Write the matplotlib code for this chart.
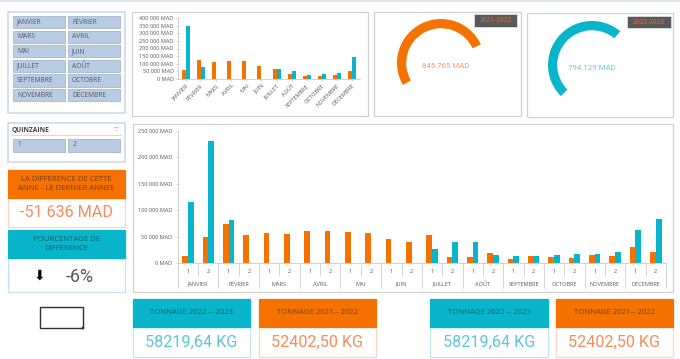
import matplotlib
matplotlib.use('Agg')
import numpy as np
import matplotlib.pyplot as plt
from matplotlib.patches import Rectangle

W, H = 680, 359
ORANGE = '#F67200'
TEAL = '#08B5CB'
GREY = '#595959'
PANEL = '#D0D0D0'

mois = ['JANVIER', 'FÉVRIER', 'MARS', 'AVRIL', 'MAI', 'JUIN', 'JUILLET', 'AOÛT',
        'SEPTEMBRE', 'OCTOBRE', 'NOVEMBRE', 'DÉCEMBRE']
mois_2122 = [60000, 125000, 112000, 118000, 115000, 85000, 65000, 33000, 20000, 20000, 27000, 52000]
mois_2223 = [345000, 80000, 0, 0, 0, 0, 68000, 50000, 27000, 32000, 38000, 145000]

quinz_2122 = [14000, 49000, 73000, 53500, 57000, 54000, 60000, 60000, 58500, 56000, 46000, 40000,
              53000, 11000, 11000, 19500, 7500, 12500, 11000, 9500, 14500, 13000, 31000, 21500]
quinz_2223 = [115000, 230000, 81000, 0, 0, 0, 0, 0, 0, 0, 0, 0,
              27000, 40000, 39000, 15000, 13000, 13000, 16000, 17500, 17000, 21500, 62000, 84000]
quinzaines = ['1', '2']

# (depart, balayage) of the two gauges, in degrees
jauge_2122 = [210, 185]
jauge_2223 = [225, 175]

plt.rcParams['font.family'] = ['Open Sans', 'DejaVu Sans']
fig = plt.figure(figsize=(W / 100, H / 100), dpi=100)

bg = fig.add_axes([0, 0, 1, 1])
bg.set_xlim(0, W)
bg.set_ylim(H, 0)
bg.axis('off')


def box(x0, y0, x1, y1, fc='white', ec=PANEL, lw=0.9):
    bg.add_patch(Rectangle((x0, y0), x1 - x0, y1 - y0, fc=fc, ec=ec, lw=lw))


def txt(x, y, s, size=5, color=GREY, **kw):
    bg.text(x, y, s, fontsize=size, color=color, ha='center', va='center', **kw)


def inset(x0, y0, x1, y1):
    return fig.add_axes([x0 / W, 1 - y1 / H, (x1 - x0) / W, (y1 - y0) / H])


def mad(v, pos=None):
    return f'{int(v):,}'.replace(',', ' ') + ' MAD'


def card(x0, x1, y0, y1, y2, head, value, fill, edge, vcolor, hcolor, size=9):
    box(x0, y1, x1, y2, ec=edge)
    box(x0, y0, x1, y1, fc=fill, ec=fill)
    txt((x0 + x1) / 2, (y0 + y1) / 2, head, size=5.6, color=hcolor, linespacing=1.25)
    if value:
        txt((x0 + x1) / 2, (y1 + y2) / 2, value, size=size, color=vcolor, family=['Roboto'])


bg.add_patch(Rectangle((0, 0), W, 2, fc='#DCE6F1', ec='none'))

# slicers
box(8, 12, 125, 113, ec='#C9D6E8', lw=1.1)
for i, m in enumerate(mois):
    x0 = 12.5 if i % 2 == 0 else 67.5
    y0 = 16 + (i // 2) * 14.6
    box(x0, y0, x0 + 52.5, y0 + 12.2, fc='#B8CCE4', ec='#A5B8D0', lw=0.6)
    bg.text(x0 + 4.5, y0 + 6.2, m, fontsize=4.8, color=GREY, va='center')

box(8, 123, 125, 162, ec='#C9D6E8', lw=1.1)
bg.text(12, 130, 'QUINZAINE', fontsize=4.8, color='#404040', va='center', fontweight='bold')
txt(116, 130, '▽', size=4.5, color='#A0A0A0')
bg.plot([12, 121], [135, 135], color='#D8D8D8', lw=0.7)
for x0, q in zip([12.5, 67.5], quinzaines):
    box(x0, 139, x0 + 52.5, 151.5, fc='#B8CCE4', ec='#A5B8D0', lw=0.6)
    bg.text(x0 + 5, 145, q, fontsize=4.8, color=GREY, va='center')

# difference cards
card(8, 125, 170, 198, 227, 'LA DIFFERENCE DE CETTE\nANNE - LE DERNIER ANNEE', '-51 636 MAD',
     ORANGE, '#FBD5C5', '#F58D5A', '#7A3A08', size=11.6)
card(8, 125, 230, 258, 292, 'POURCENTAGE DE\nDIFFERENCE', '', TEAL, '#BFE6EE', GREY, '#0B5F70')
bg.text(39, 276, '⬇', fontsize=10, color='black', ha='center', va='center', family=['DejaVu Sans'])
txt(80, 277, '-6%', size=12.8, family=['Roboto'])

# empty shape
box(40, 307, 83, 328, ec='#303030', lw=1.0)
box(82, 327, 83.5, 328.5, fc='#303030', ec='#303030', lw=0.3)

# top chart
box(132, 12, 368, 116)
ax = inset(178, 18, 360, 79)
xm = np.arange(len(mois))
ax.bar(xm - 0.13, mois_2122, 0.26, color=ORANGE)
ax.bar(xm + 0.13, mois_2223, 0.26, color=TEAL)
ax.set_xlim(-0.5, 11.5)
ax.set_ylim(0, 400000)
ax.set_yticks(np.arange(0, 400001, 50000))
ax.yaxis.set_major_formatter(mad)
ax.set_xticks(xm)
ax.set_xticklabels(mois, rotation=45, ha='right', rotation_mode='anchor')
ax.tick_params(labelsize=4.1, labelcolor=GREY, length=1.5, width=0.5, color='#BFBFBF', pad=1.5)
for s in ['top', 'right']:
    ax.spines[s].set_visible(False)
for s in ['left', 'bottom']:
    ax.spines[s].set_color('#BFBFBF')
    ax.spines[s].set_linewidth(0.5)
ax.patch.set_alpha(0)

# gauges
for (x0, x1, y0, y1), jauge, color, (cx, cy), label, lcolor, (tx0, tx1, ty0, ty1), year in [
    ((374, 521, 12, 116), jauge_2122, ORANGE, (441, 63), '845 765 MAD', '#F49C78', (474, 517, 14, 27), '2021-2022'),
    ((527, 673, 13, 117), jauge_2223, TEAL, (592, 65), '794 129 MAD', '#6FC8DB', (627, 671, 16, 28), '2022-2023'),
]:
    box(x0, y0, x1, y1)
    g = inset(cx - 44, cy - 44, cx + 44, cy + 44)
    g.pie([jauge[1], 360 - jauge[1]], startangle=jauge[0], counterclock=False, radius=1.0,
          colors=[color, 'none'], wedgeprops={'width': 0.21, 'linewidth': 0})
    g.set_xlim(-1, 1)
    g.set_ylim(-1, 1)
    txt(cx + 5 if color == ORANGE else cx, cy + 3, label, size=5.7, color=lcolor, family=['Roboto'])
    box(tx0, ty0, tx1, ty1, fc=GREY, ec='#D8D8D8', lw=0.7)
    txt((tx0 + tx1) / 2, (ty0 + ty1) / 2, year, size=4.8, color='#C0622D', fontweight='bold')

# big chart
box(133, 124, 673, 292)
ax2 = inset(177.7, 130.7, 666, 263)
xq = np.arange(len(quinz_2122))
ax2.bar(xq - 0.14, quinz_2122, 0.28, color=ORANGE)
ax2.bar(xq + 0.14, quinz_2223, 0.28, color=TEAL)
ax2.set_xlim(-0.5, 23.5)
ax2.set_ylim(0, 250000)
ax2.set_yticks(np.arange(0, 250001, 50000))
ax2.yaxis.set_major_formatter(mad)
ax2.set_xticks(xq)
ax2.set_xticklabels(quinzaines * 12)
ax2.tick_params(axis='y', labelsize=4.1, labelcolor=GREY, length=1.5, width=0.5, color='#BFBFBF', pad=2.5)
ax2.tick_params(axis='x', labelsize=4.1, labelcolor=GREY, length=0, pad=4.5)
for s in ['top', 'right']:
    ax2.spines[s].set_visible(False)
for s in ['left', 'bottom']:
    ax2.spines[s].set_color('#BFBFBF')
    ax2.spines[s].set_linewidth(0.5)
ax2.patch.set_alpha(0)
trans = ax2.get_xaxis_transform()
for i in range(25):
    low = -0.189 if i % 2 == 0 else -0.096
    ax2.plot([i - 0.5, i - 0.5], [0, low], transform=trans, clip_on=False, color='#D0D0D0', lw=0.6)
for i, m in enumerate(mois):
    ax2.text(2 * i + 0.5, -0.159, m, transform=trans, fontsize=4.1, color=GREY, ha='center', va='center')

# tonnage cards
for x0, x1, head, value, fill, edge, vcolor, hcolor in [
    (133, 250, 'TONNAGE 2022 -- 2023', '58219,64 KG', TEAL, '#BFE6EE', '#5CC6DA', '#0B5F70'),
    (259, 376, 'TONNAGE 2021-- 2022', '52402,50 KG', ORANGE, '#FBD5C5', '#F58D5A', '#7A3A08'),
    (430, 548, 'TONNAGE 2022 -- 2023', '58219,64 KG', TEAL, '#BFE6EE', '#5CC6DA', '#0B5F70'),
    (556, 673, 'TONNAGE 2021-- 2022', '52402,50 KG', ORANGE, '#FBD5C5', '#F58D5A', '#7A3A08'),
]:
    card(x0, x1, 299, 327, 357, head, value, fill, edge, vcolor, hcolor, size=11.7)

fig.savefig('out.png', dpi=100)
